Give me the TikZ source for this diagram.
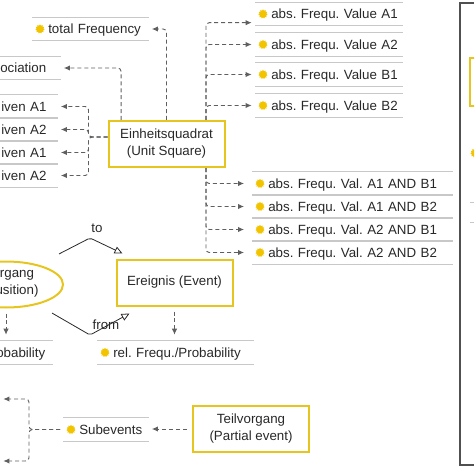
\documentclass[tikz,border=0pt]{standalone}
\usepackage{fontspec}
\setmainfont{Liberation Sans}
\usetikzlibrary{arrows.meta,shapes.geometric}

\definecolor{boxyellow}{RGB}{230,198,30}
\definecolor{sunyellow}{RGB}{242,196,0}
\definecolor{rulegray}{RGB}{200,200,200}
\definecolor{linkgray}{RGB}{95,95,95}
\definecolor{txtgray}{RGB}{40,40,40}
\definecolor{framegray}{RGB}{80,80,80}

\frenchspacing
\tikzset{
  concept/.style={draw=boxyellow, line width=1.5pt, minimum width=87pt, minimum height=34.5pt, align=center, inner sep=2pt},
  sunbullet/.style={star, star points=11, star point ratio=1.35, fill=sunyellow, inner sep=0pt, minimum size=7pt},
  sepline/.style={draw=rulegray, line width=0.6pt},
  band/.style={anchor=west, inner sep=0pt, text width=#1*0.75pt, minimum height=17.25pt, align=left,
    text height=9pt, text depth=2pt, execute at begin node={\hyphenpenalty=10000\hspace*{12pt}},
    append after command={
      (\tikzlastnode.north west) edge[sepline] (\tikzlastnode.north east)
      (\tikzlastnode.south west) edge[sepline] (\tikzlastnode.south east)
      node[sunbullet] at ([xshift=6pt]\tikzlastnode.west) {}}},
  dep/.style={draw=linkgray, line width=0.7pt, dash pattern=on 3pt off 2.2pt, rounded corners=2.5pt,
    shorten >=2.5pt, -{Latex[length=4.5pt,width=4pt]}},
  flow/.style={draw=txtgray, line width=0.6pt, rounded corners=1.5pt, -{Triangle[open,length=6pt,width=5.5pt]}},
}

\begin{document}
\begin{tikzpicture}[x=0.75pt, y=-0.75pt, font=\fontsize{10}{12.75}\selectfont, text=txtgray]
  \useasboundingbox (0,0) rectangle (474,474);
  \clip (0,0) rectangle (474,474);

  % concepts
  \node[concept] (usq) at (166.5,144) {Einheitsquadrat\\(Unit Square)};
  \node[concept] (evt) at (174.5,282.5) {Ereignis (Event)};
  \node[concept] (part) at (251,429) {Teilvorgang\\(Partial event)};
  \node[ellipse, draw=boxyellow, line width=1.5pt, minimum width=85.5pt, minimum height=34.5pt] (trans) at (6,284.5) {};
  \node[align=center] (transtxt) at (17,284) {rgang\\usition)};

  % attributes of the unit square
  \node[band=116] (tf) at (32,29) {total Frequency};
  \node[band=76] (assoc) at (-16,68) {ociation};
  \node[band=72] (c1) at (-15,106.5) {iven A1};
  \node[band=72] (c2) at (-15,129.5) {iven A2};
  \node[band=72] (c3) at (-15,152.5) {iven A1};
  \node[band=72] (c4) at (-15,175.5) {iven A2};

  \node[band=147] (fa1) at (255,14) {abs. Frequ. Value A1};
  \node[band=147] (fa2) at (255,44.5) {abs. Frequ. Value A2};
  \node[band=147] (fa3) at (255,74.5) {abs. Frequ. Value B1};
  \node[band=147] (fa4) at (255,105.5) {abs. Frequ. Value B2};

  \node[band=200] (fb1) at (252,183.5) {abs. Frequ. Val. A1 AND B1};
  \node[band=200] (fb2) at (252,206.5) {abs. Frequ. Val. A1 AND B2};
  \node[band=200] (fb3) at (252,229.5) {abs. Frequ. Val. A2 AND B1};
  \node[band=200] (fb4) at (252,252.5) {abs. Frequ. Val. A2 AND B2};

  % probabilities and subevents
  \node[band=72] (lprob) at (-20,352.5) {obability};
  \node[band=156] (relp) at (97,352.5) {rel. Frequ./Probability};
  \node[band=85] (subev) at (63,429.5) {Subevents};

  % links from the unit square
  \draw[dep] (usq.north) |- (tf.east);
  \draw[dep] ([xshift=-34.1pt]usq.north) |- (assoc.east);
  \draw[dep] ([yshift=5.25pt]usq.west) -- ++(-19,0) |- (c1.east);
  \draw[dep] ([yshift=5.25pt]usq.west) -- ++(-19,0) |- (c2.east);
  \draw[dep] ([yshift=5.25pt]usq.west) -- ++(-19,0) |- (c3.east);
  \draw[dep] ([yshift=5.25pt]usq.west) -- ++(-19,0) |- (c4.east);

  \draw[dep] ([xshift=29.6pt]usq.north) |- ([yshift=-6.5pt]fa1.west);
  \draw[dep] ([xshift=29.6pt]usq.north) |- (fa2.west);
  \draw[dep] ([xshift=29.6pt]usq.north) |- (fa3.west);
  \draw[dep] ([xshift=29.6pt]usq.north) |- (fa4.west);

  \draw[dep, shorten >=6pt] ([xshift=29.6pt]usq.south) |- (fb1.west);
  \draw[dep, shorten >=6pt] ([xshift=29.6pt]usq.south) |- (fb2.west);
  \draw[dep, shorten >=6pt] ([xshift=29.6pt]usq.south) |- (fb3.west);
  \draw[dep, shorten >=6pt] ([xshift=29.6pt]usq.south) |- (fb4.west);

  % transition to event
  \coordinate (tobend) at (90,238);
  \coordinate (frombend) at (90,335);
  \draw[flow] ([shift={(-3.75pt,22.9pt)}]trans.east) -- (tobend) -- ([shift={(5.25pt,3.75pt)}]evt.north west);
  \draw[flow] ([shift={(-9pt,-21.4pt)}]trans.east) -- (frombend) -- ([shift={(10.5pt,-5.25pt)}]evt.south west);
  \node (tolbl) at (97,228) {to};
  \node (fromlbl) at (106,325) {from};

  \draw[dep, shorten <=3.75pt, shorten >=4.5pt] (trans.south) -- (trans.south |- lprob.north);
  \draw[dep, shorten <=3.75pt, shorten >=4.5pt] (evt.south) -- (evt.south |- relp.north);

  % partial event
  \coordinate (subup) at (0,399);
  \coordinate (subdn) at (0,461);
  \draw[dep, shorten <=3.75pt] (part.west) -- (part.west -| subev.east);
  \draw[dep, shorten <=2.25pt] (subev.west) -- ++(-34,0) |- (subup);
  \draw[dep, shorten <=2.25pt] (subev.west) -- ++(-34,0) |- (subdn);

  % neighbouring frame
  \draw[framegray, line width=1.1pt] (474,3) -- (460,3) -- (460,465) -- (474,465);
  \node[concept, minimum height=36pt] (ctx) at (528,82) {};
  \node[sunbullet] (ctxdot) at (475,153) {};
  \draw[sepline] (470,202) -- (474,202);
  \draw[sepline] (470,222) -- (474,222);
\end{tikzpicture}
\end{document}
